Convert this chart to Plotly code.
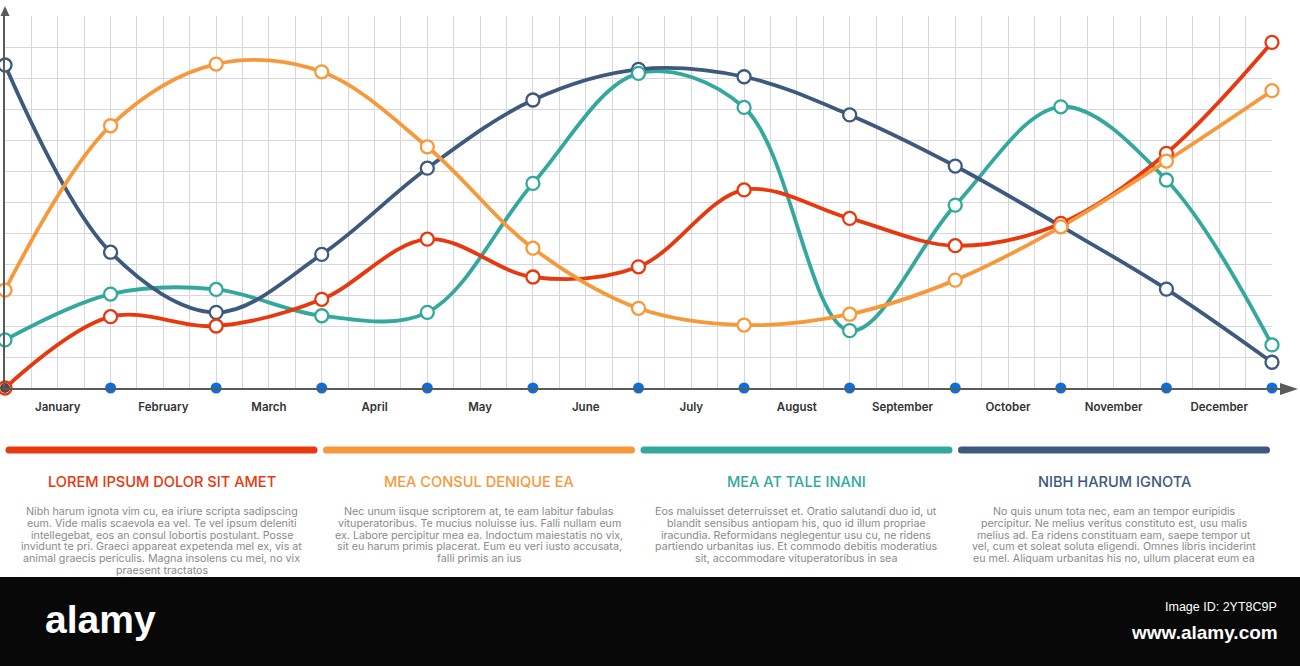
import plotly.graph_objects as go

W, H = 1300, 666

# ---------------- data ----------------
months = ["January", "February", "March", "April", "May", "June",
          "July", "August", "September", "October", "November", "December"]
x_idx = list(range(13))

red_vals = [0.00, 2.30, 2.00, 2.86, 4.80, 3.58, 3.91, 6.39, 5.47, 4.59, 5.31, 7.57, 11.15]
orange_vals = [3.16, 8.46, 10.45, 10.20, 7.78, 4.51, 2.57, 2.03, 2.38, 3.48, 5.20, 7.32, 9.59]
teal_vals = [1.55, 3.03, 3.18, 2.33, 2.44, 6.60, 10.15, 9.05, 1.85, 5.90, 9.07, 6.71, 1.39]
navy_vals = [10.42, 4.38, 2.44, 4.31, 7.09, 9.29, 10.28, 10.04, 8.81, 7.16, 5.22, 3.19, 0.83]

titles = ["LOREM IPSUM DOLOR SIT AMET", "MEA CONSUL DENIQUE EA",
          "MEA AT TALE INANI", "NIBH HARUM IGNOTA"]

paragraphs = [
    ["Nibh harum ignota vim cu, ea iriure scripta sadipscing",
     "eum. Vide malis scaevola ea vel. Te vel ipsum deleniti",
     "intellegebat, eos an consul lobortis postulant. Posse",
     "invidunt te pri. Graeci appareat expetenda mel ex, vis at",
     "animal graecis periculis. Magna insolens cu mei, no vix",
     "praesent tractatos"],
    ["Nec unum iisque scriptorem at, te eam labitur fabulas",
     "vituperatoribus. Te mucius noluisse ius. Falli nullam eum",
     "ex. Labore percipitur mea ea. Indoctum maiestatis no vix,",
     "sit eu harum primis placerat. Eum eu veri iusto accusata,",
     "falli primis an ius"],
    ["Eos maluisset deterruisset et. Oratio salutandi duo id, ut",
     "blandit sensibus antiopam his, quo id illum propriae",
     "iracundia. Reformidans neglegentur usu cu, ne ridens",
     "partiendo urbanitas ius. Et commodo debitis moderatius",
     "sit, accommodare vituperatoribus in sea"],
    ["No quis unum tota nec, eam an tempor euripidis",
     "percipitur. Ne melius veritus constituto est, usu malis",
     "melius ad. Ea ridens constituam eam, saepe tempor ut",
     "vel, cum et soleat soluta eligendi. Omnes libris inciderint",
     "eu mel. Aliquam urbanitas his no, ullum placerat eum ea"],
]

# ---------------- styles ----------------
RED, ORANGE, TEAL, NAVY = "#e8380d", "#f7993b", "#33a89c", "#3d5a7e"
section_colors = [RED, ORANGE, TEAL, NAVY]
AXIS = "#5a5a5a"
GRID = "#d6d6dc"
DOT = "#0d6fdf"
FONT = "Inter"

# plot area in pixels
PL, PR, PT, PB = 5, 1272, 16, 388


def fx(px):
    return px / W


def fy(py):
    return 1 - py / H


fig = go.Figure()

# lines first (order: teal, navy, red, orange)
for name, vals, col in [("Teal", teal_vals, TEAL), ("Navy", navy_vals, NAVY),
                        ("Red", red_vals, RED), ("Orange", orange_vals, ORANGE)]:
    fig.add_trace(go.Scatter(x=x_idx, y=vals, mode="lines", name=name,
                             line=dict(color=col, width=3.8, shape="spline", smoothing=1),
                             cliponaxis=False, hoverinfo="skip", showlegend=False))

# axis dots
fig.add_trace(go.Scatter(x=x_idx[1:], y=[0] * 12, mode="markers",
                         marker=dict(size=11, color=DOT), cliponaxis=False,
                         hoverinfo="skip", showlegend=False))

# markers (order: navy, red, orange, teal)
for name, vals, col in [("Navy", navy_vals, NAVY), ("Red", red_vals, RED),
                        ("Orange", orange_vals, ORANGE), ("Teal", teal_vals, TEAL)]:
    fig.add_trace(go.Scatter(x=x_idx, y=vals, mode="markers", name=name,
                             marker=dict(size=13, color="white",
                                         line=dict(color=col, width=2.3)),
                             cliponaxis=False, showlegend=False))

# origin dot
fig.add_trace(go.Scatter(x=[0], y=[0], mode="markers",
                         marker=dict(size=10, color="#5e4440"), cliponaxis=False,
                         hoverinfo="skip", showlegend=False))

shapes = []
# axis arrow extensions
shapes.append(dict(type="line", xref="paper", yref="paper",
                   x0=fx(PL), x1=fx(PL), y0=fy(PT), y1=fy(10),
                   line=dict(color=AXIS, width=2)))
shapes.append(dict(type="path", xref="paper", yref="paper",
                   path=f"M {fx(PL-4.5)},{fy(PT)} L {fx(PL+4.5)},{fy(PT)} L {fx(PL)},{fy(6)} Z",
                   fillcolor=AXIS, line=dict(width=0)))
shapes.append(dict(type="line", xref="paper", yref="paper",
                   x0=fx(PR), x1=fx(1284), y0=fy(PB + 1), y1=fy(PB + 1),
                   line=dict(color=AXIS, width=2)))
shapes.append(dict(type="path", xref="paper", yref="paper",
                   path=f"M {fx(1280)},{fy(PB-5)} L {fx(1280)},{fy(PB+7)} L {fx(1298)},{fy(PB+1)} Z",
                   fillcolor=AXIS, line=dict(width=0)))


def rounded_bar(x0, x1, y0, y1, r):
    rx, ry = r / W, r / H
    X0, X1, Y0, Y1 = fx(x0), fx(x1), fy(y0), fy(y1)  # Y0 top (larger), Y1 bottom
    return (f"M {X0+rx},{Y0} L {X1-rx},{Y0} Q {X1},{Y0} {X1},{Y0-ry} "
            f"L {X1},{Y1+ry} Q {X1},{Y1} {X1-rx},{Y1} L {X0+rx},{Y1} "
            f"Q {X0},{Y1} {X0},{Y1+ry} L {X0},{Y0-ry} Q {X0},{Y0} {X0+rx},{Y0} Z")


annotations = []
bar_start, bar_step, bar_w = 5.5, 317.5, 312
for i in range(4):
    x0 = bar_start + i * bar_step
    x1 = x0 + bar_w
    cx = (x0 + x1) / 2
    shapes.append(dict(type="path", xref="paper", yref="paper",
                       path=rounded_bar(x0, x1, 446.5, 453.5, 3.5),
                       fillcolor=section_colors[i], line=dict(width=0)))
    annotations.append(dict(xref="paper", yref="paper", x=fx(cx), y=fy(481.5),
                            text=titles[i], showarrow=False, xanchor="center",
                            yanchor="middle",
                            font=dict(family=FONT, size=14.6, color=section_colors[i],
                                      weight=500)))
    for j, line in enumerate(paragraphs[i]):
        annotations.append(dict(xref="paper", yref="paper", x=fx(cx),
                                y=fy(511.7 + j * 11.67), text=line, showarrow=False,
                                xanchor="center", yanchor="middle",
                                font=dict(family=FONT, size=10.7, color="#8a8a8a")))

# black band with watermark text
shapes.append(dict(type="rect", xref="paper", yref="paper", x0=0, x1=1,
                   y0=0, y1=fy(577), fillcolor="#080808", line=dict(width=0),
                   layer="above"))
annotations.append(dict(xref="paper", yref="paper", x=fx(101), y=fy(619),
                        text="<b>alamy</b>", showarrow=False, xanchor="center",
                        yanchor="middle",
                        font=dict(family="Liberation Sans", size=39, color="white")))
annotations.append(dict(xref="paper", yref="paper", x=fx(1279), y=fy(607),
                        text="Image ID: 2YT8C9P", showarrow=False, xanchor="right",
                        yanchor="middle",
                        font=dict(family="Liberation Sans", size=12.5, color="white")))
annotations.append(dict(xref="paper", yref="paper", x=fx(1280), y=fy(632),
                        text="<b>www.alamy.com</b>", showarrow=False, xanchor="right",
                        yanchor="middle",
                        font=dict(family="Liberation Sans", size=19, color="white")))

fig.update_layout(
    width=W, height=H,
    margin=dict(l=0, r=0, t=0, b=0),
    paper_bgcolor="white", plot_bgcolor="white",
    showlegend=False,
    shapes=shapes, annotations=annotations,
    xaxis=dict(domain=[PL / W, PR / W], range=[0, 12],
               tickvals=[i + 0.5 for i in range(12)], ticktext=months,
               ticks="outside", ticklen=7, tickcolor="rgba(0,0,0,0)",
               tickfont=dict(family=FONT, size=11.5, color="#333333", weight=600),
               showgrid=True, gridcolor=GRID, gridwidth=1,
               minor=dict(dtick=0.25, tick0=0, showgrid=True, gridcolor=GRID, gridwidth=1),
               showline=True, linecolor=AXIS, linewidth=2, zeroline=False,
               fixedrange=True),
    yaxis=dict(domain=[1 - PB / H, 1 - PT / H], range=[0, 12], dtick=1,
               showticklabels=False, showgrid=True, gridcolor=GRID, gridwidth=1,
               showline=True, linecolor=AXIS, linewidth=2, zeroline=False,
               fixedrange=True),
)

fig.write_html("out.html")
